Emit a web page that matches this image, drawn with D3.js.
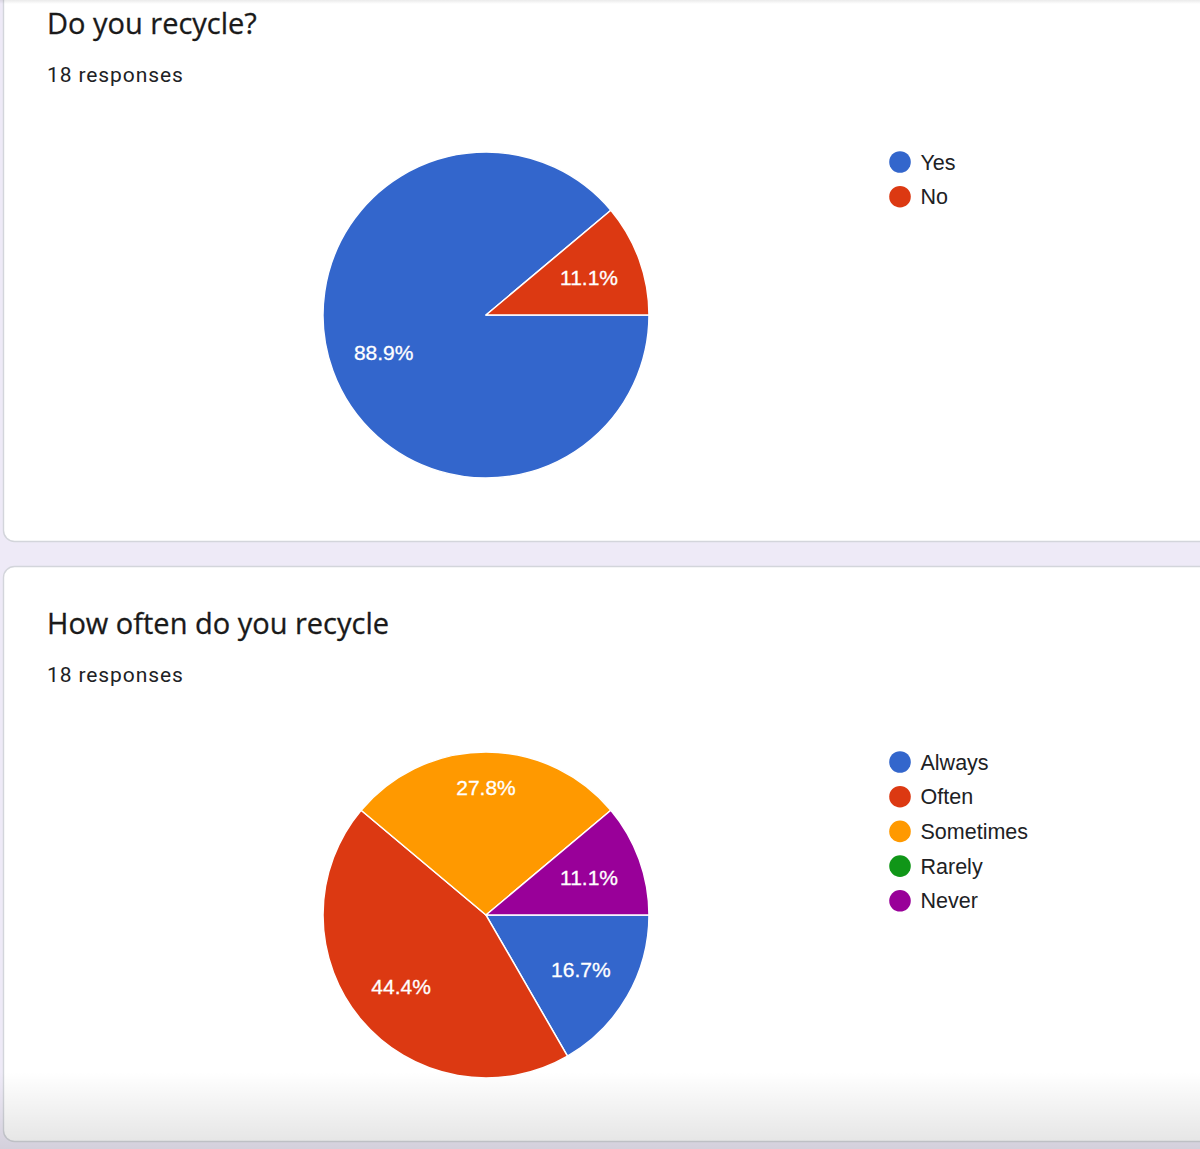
<!DOCTYPE html>
<html>
<head>
<meta charset="utf-8">
<script src="https://cdn.jsdelivr.net/npm/d3@7"></script>
<style>
  html, body { margin: 0; padding: 0; background: #eeeaf7; overflow: hidden; }
  svg { display: block; }
</style>
</head>
<body>
<div id="chart"></div>
<script>
//////////////////////////////////////////////
// Data //////////////////////////////////////
//////////////////////////////////////////////
var q1Title = "Do you recycle?";
var q1Labels = ["Yes", "No"];
var q1Counts = [16, 2];

var q2Title = "How often do you recycle";
var q2Labels = ["Always", "Often", "Sometimes", "Rarely", "Never"];
var q2Counts = [3, 8, 5, 0, 2];

var palette = ["#3366cc", "#dc3912", "#ff9900", "#109618", "#990099"];

//////////////////////////////////////////////
// Config ////////////////////////////////////
//////////////////////////////////////////////
var width = 1200, height = 1149;
var radius = 163;
var labelReach = 140;   // far corner of the label box sits on this radius (google-ish)

var svg = d3.select("#chart").append("svg")
    .attr("width", width)
    .attr("height", height);

var defs = svg.append("defs");
var fade = defs.append("linearGradient").attr("id", "fadeBottom")
    .attr("x1", 0).attr("y1", 0).attr("x2", 0).attr("y2", 1);
fade.append("stop").attr("offset", "0%").attr("stop-color", "#000").attr("stop-opacity", 0);
fade.append("stop").attr("offset", "100%").attr("stop-color", "#000").attr("stop-opacity", 0.11);

var fadeTop = defs.append("linearGradient").attr("id", "fadeTop")
    .attr("x1", 0).attr("y1", 0).attr("x2", 0).attr("y2", 1);
fadeTop.append("stop").attr("offset", "0%").attr("stop-color", "#000").attr("stop-opacity", 0.08);
fadeTop.append("stop").attr("offset", "100%").attr("stop-color", "#000").attr("stop-opacity", 0);

var pct = d3.format(".1%");

// one card = title, "n responses", pie and legend
function drawCard(top, cardHeight, title, labels, counts) {
  var total = d3.sum(counts);
  var g = svg.append("g").attr("transform", "translate(0," + top + ")");

  g.append("rect")
    .attr("x", 3.5).attr("y", 0.5)
    .attr("width", 1250).attr("height", cardHeight)
    .attr("rx", 11)
    .style("fill", "#fff")
    .style("stroke", "#d3d5db")
    .style("stroke-width", 1.4);

  g.append("text")
    .attr("x", 47).attr("y", 68)
    .style("font-family", "'Open Sans', sans-serif")
    .style("font-size", "29px")
    .style("fill", "#1a1a1a")
    .style("stroke", "#1a1a1a")
    .style("stroke-width", 0.3)
    .text(title);

  g.append("text")
    .attr("x", 47).attr("y", 116)
    .style("font-family", "Roboto, sans-serif")
    .style("font-size", "21px")
    .style("letter-spacing", "0.9px")
    .style("fill", "#202124")
    .text(total + " responses");

  // pie starts at 3 o'clock and runs clockwise
  var pie = d3.pie()
    .sort(null)
    .startAngle(Math.PI / 2)
    .endAngle(Math.PI / 2 + 2 * Math.PI);

  var arc = d3.arc().innerRadius(0).outerRadius(radius);
  var arcs = pie(counts).map(function(d, i) { d.label = labels[i]; d.color = palette[i]; return d; })
    .filter(function(d) { return d.value > 0; });

  var pieG = g.append("g").attr("transform", "translate(486,349)");

  pieG.selectAll("path.slice").data(arcs).enter()
    .append("path")
    .attr("class", "slice")
    .attr("d", arc)
    .style("fill", function(d) { return d.color; })
    .style("stroke", "#fff")
    .style("stroke-width", 1.5)
    .style("stroke-linejoin", "round");

  var lbl = pieG.selectAll("text.pct").data(arcs).enter()
    .append("text")
    .attr("class", "pct")
    .attr("text-anchor", "middle")
    .style("font-family", "Arial, 'Liberation Sans', sans-serif")
    .style("font-size", "21px")
    .style("fill", "#fff")
    .style("stroke", "#fff")
    .style("stroke-width", 0.3)
    .text(function(d) { return pct(d.value / total); });

  // push each label box out along the mid angle until its far corner touches labelReach
  lbl.each(function(d) {
    var hw = this.getComputedTextLength() / 2, hh = 9;
    var a = (d.startAngle + d.endAngle) / 2;
    var s = Math.sin(a), c = -Math.cos(a);
    var b = Math.abs(s) * hw + Math.abs(c) * hh;
    var t = -b + Math.sqrt(b * b - (hw * hw + hh * hh - labelReach * labelReach));
    d3.select(this)
      .attr("x", t * s)
      .attr("y", t * c + 7.5);
  });

  // legend
  var legend = g.append("g").attr("transform", "translate(900,196)");
  var rows = legend.selectAll("g").data(labels).enter()
    .append("g")
    .attr("transform", function(d, i) { return "translate(0," + (i * 34.7) + ")"; });

  rows.append("circle")
    .attr("r", 10.8)
    .style("fill", function(d, i) { return palette[i]; });

  rows.append("text")
    .attr("x", 20.5).attr("y", 7.5)
    .style("font-family", "Arial, 'Liberation Sans', sans-serif")
    .style("font-size", "21.5px")
    .style("fill", "#202124")
    .text(function(d) { return d; });
}

drawCard(-34, 575, q1Title, q1Labels, q1Counts);
drawCard(566, 575, q2Title, q2Labels, q2Counts);

// screenshot shading at the edges
svg.append("rect").attr("x", 0).attr("y", 0).attr("width", width).attr("height", 4)
  .style("fill", "url(#fadeTop)");
svg.append("rect").attr("x", 0).attr("y", 1072).attr("width", width).attr("height", 77)
  .style("fill", "url(#fadeBottom)");
</script>
</body>
</html>
